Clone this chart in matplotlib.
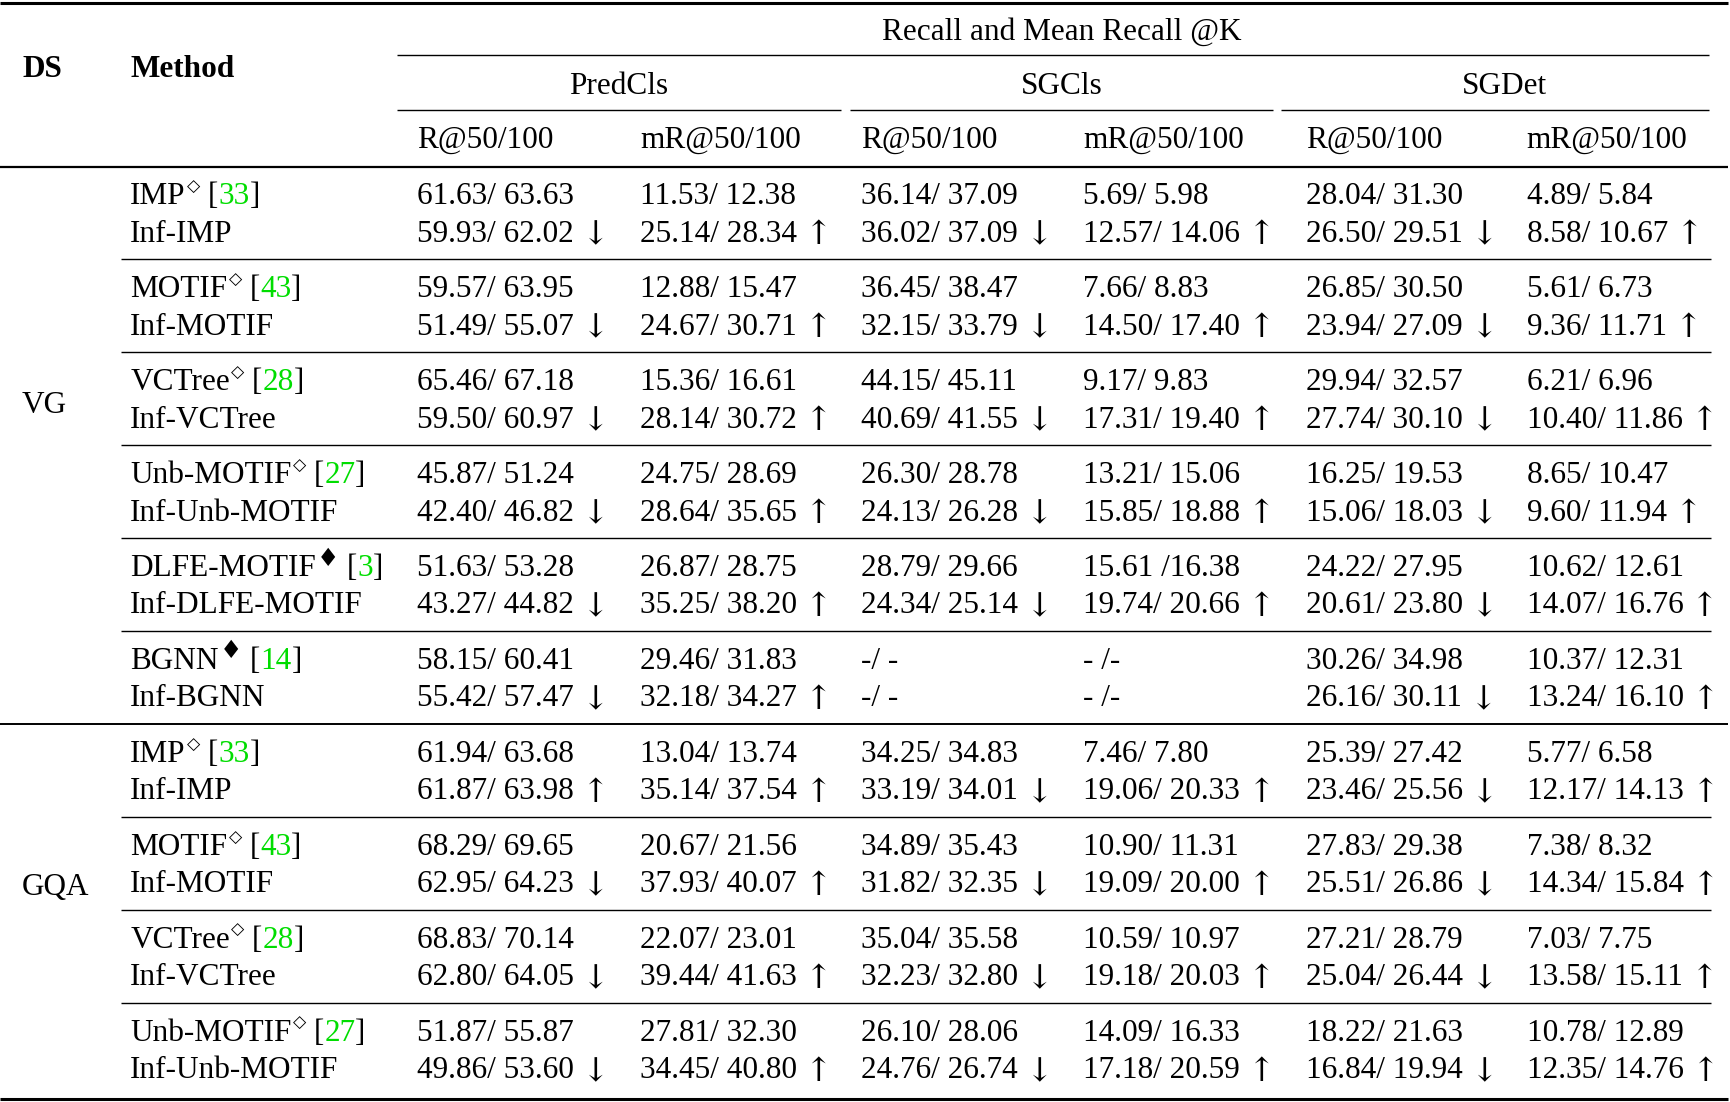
import matplotlib
matplotlib.use("Agg")
import matplotlib.pyplot as plt

plt.rcParams['font.family'] = ['Liberation Serif', 'DejaVu Serif']

# table data
groups = ["VG"] * 12 + ["GQA"] * 8
base_names = ["IMP", "MOTIF", "VCTree", "Unb-MOTIF", "DLFE-MOTIF", "BGNN",
              "IMP", "MOTIF", "VCTree", "Unb-MOTIF"]
marks = ["\u25C7", "\u25C7", "\u25C7", "\u25C7", "\u2666", "\u2666",
         "\u25C7", "\u25C7", "\u25C7", "\u25C7"]
refs = ["33", "43", "28", "27", "3", "14", "33", "43", "28", "27"]
inf_names = ["Inf-IMP", "Inf-MOTIF", "Inf-VCTree", "Inf-Unb-MOTIF", "Inf-DLFE-MOTIF",
             "Inf-BGNN", "Inf-IMP", "Inf-MOTIF", "Inf-VCTree", "Inf-Unb-MOTIF"]

base_vals = [
    ["61.63/ 63.63", "11.53/ 12.38", "36.14/ 37.09", "5.69/ 5.98", "28.04/ 31.30", "4.89/ 5.84"],
    ["59.57/ 63.95", "12.88/ 15.47", "36.45/ 38.47", "7.66/ 8.83", "26.85/ 30.50", "5.61/ 6.73"],
    ["65.46/ 67.18", "15.36/ 16.61", "44.15/ 45.11", "9.17/ 9.83", "29.94/ 32.57", "6.21/ 6.96"],
    ["45.87/ 51.24", "24.75/ 28.69", "26.30/ 28.78", "13.21/ 15.06", "16.25/ 19.53", "8.65/ 10.47"],
    ["51.63/ 53.28", "26.87/ 28.75", "28.79/ 29.66", "15.61 /16.38", "24.22/ 27.95", "10.62/ 12.61"],
    ["58.15/ 60.41", "29.46/ 31.83", "-/ -", "- /-", "30.26/ 34.98", "10.37/ 12.31"],
    ["61.94/ 63.68", "13.04/ 13.74", "34.25/ 34.83", "7.46/ 7.80", "25.39/ 27.42", "5.77/ 6.58"],
    ["68.29/ 69.65", "20.67/ 21.56", "34.89/ 35.43", "10.90/ 11.31", "27.83/ 29.38", "7.38/ 8.32"],
    ["68.83/ 70.14", "22.07/ 23.01", "35.04/ 35.58", "10.59/ 10.97", "27.21/ 28.79", "7.03/ 7.75"],
    ["51.87/ 55.87", "27.81/ 32.30", "26.10/ 28.06", "14.09/ 16.33", "18.22/ 21.63", "10.78/ 12.89"],
]
inf_vals = [
    ["59.93/ 62.02 \u2193", "25.14/ 28.34 \u2191", "36.02/ 37.09 \u2193", "12.57/ 14.06 \u2191", "26.50/ 29.51 \u2193", "8.58/ 10.67 \u2191"],
    ["51.49/ 55.07 \u2193", "24.67/ 30.71 \u2191", "32.15/ 33.79 \u2193", "14.50/ 17.40 \u2191", "23.94/ 27.09 \u2193", "9.36/ 11.71 \u2191"],
    ["59.50/ 60.97 \u2193", "28.14/ 30.72 \u2191", "40.69/ 41.55 \u2193", "17.31/ 19.40 \u2191", "27.74/ 30.10 \u2193", "10.40/ 11.86 \u2191"],
    ["42.40/ 46.82 \u2193", "28.64/ 35.65 \u2191", "24.13/ 26.28 \u2193", "15.85/ 18.88 \u2191", "15.06/ 18.03 \u2193", "9.60/ 11.94 \u2191"],
    ["43.27/ 44.82 \u2193", "35.25/ 38.20 \u2191", "24.34/ 25.14 \u2193", "19.74/ 20.66 \u2191", "20.61/ 23.80 \u2193", "14.07/ 16.76 \u2191"],
    ["55.42/ 57.47 \u2193", "32.18/ 34.27 \u2191", "-/ -", "- /-", "26.16/ 30.11 \u2193", "13.24/ 16.10 \u2191"],
    ["61.87/ 63.98 \u2191", "35.14/ 37.54 \u2191", "33.19/ 34.01 \u2193", "19.06/ 20.33 \u2191", "23.46/ 25.56 \u2193", "12.17/ 14.13 \u2191"],
    ["62.95/ 64.23 \u2193", "37.93/ 40.07 \u2191", "31.82/ 32.35 \u2193", "19.09/ 20.00 \u2191", "25.51/ 26.86 \u2193", "14.34/ 15.84 \u2191"],
    ["62.80/ 64.05 \u2193", "39.44/ 41.63 \u2191", "32.23/ 32.80 \u2193", "19.18/ 20.03 \u2191", "25.04/ 26.44 \u2193", "13.58/ 15.11 \u2191"],
    ["49.86/ 53.60 \u2193", "34.45/ 40.80 \u2191", "24.76/ 26.74 \u2193", "17.18/ 20.59 \u2191", "16.84/ 19.94 \u2193", "12.35/ 14.76 \u2191"],
]
tasks = ["PredCls", "SGCls", "SGDet"]
col_heads = ["R@50/100", "mR@50/100"] * 3

W, H = 1568, 998
fig = plt.figure(figsize=(17.31, 11.02), dpi=100)
ax = fig.add_axes([0, 0, 1, 1])
ax.set_xlim(0, W)
ax.set_ylim(H, 0)
ax.axis('off')

fs = 22.5
green = '#00dd00'
col_x = [378, 580, 780, 981, 1183, 1383]
dy = 2

def hline(y, x0=0, x1=1565, lw=1.0):
    ax.plot([x0, x1], [y, y], color='black', lw=lw, solid_capstyle='butt')

def txt(x, y, s, **kw):
    kw.setdefault('fontsize', fs)
    kw.setdefault('va', 'center')
    return ax.text(x, y + dy, s, **kw)

# header
hline(3, lw=2.2)
txt(20, 61, "DS", weight='bold')
txt(118, 61, "Method", weight='bold')
txt(962, 27, "Recall and Mean Recall @K", ha='center')
hline(50, 360, 1548)
for i, t in enumerate(tasks):
    txt(560 + i * 401.5, 76, t, ha='center')
for x0, x1 in [(360, 762), (770, 1153), (1160, 1548)]:
    hline(100, x0, x1)
for x, h in zip(col_x, col_heads):
    txt(x, 125, h)
hline(151, lw=1.6)

fig.canvas.draw()
renderer = fig.canvas.get_renderer()
inv = ax.transData.inverted()

def right_edge(t):
    bb = t.get_window_extent(renderer)
    return inv.transform((bb.x1, bb.y0))[0]

y0 = 176
step = 84.2
for i in range(len(base_names)):
    ya = y0 + i * step
    yb = ya + 34
    t = txt(118, ya, base_names[i])
    x = right_edge(t)
    if marks[i] == "\u2666":
        t = txt(x + 1, ya - 9, marks[i], fontsize=fs * 0.8, family=['DejaVu Sans'])
    else:
        t = txt(x + 1, ya - 9, marks[i], fontsize=fs * 0.55, family=['DejaVu Sans'])
    x = right_edge(t)
    t = txt(x, ya, " [")
    x = right_edge(t)
    t = txt(x, ya, refs[i], color=green)
    x = right_edge(t)
    txt(x, ya, "]")
    txt(118, yb, inf_names[i])
    for cx, a, b in zip(col_x, base_vals[i], inf_vals[i]):
        txt(cx, ya, a)
        if b[-1] in "\u2191\u2193":
            t = txt(cx, yb, b[:-1])
            x = right_edge(t)
            txt(x, yb + 1, b[-1], fontsize=fs * 1.05, family=['DejaVu Serif'])
        else:
            txt(cx, yb, b)
    sep = yb + 25
    if i == 5:
        hline(sep, lw=1.4)
    elif i < len(base_names) - 1:
        hline(sep, 110, 1550)

txt(20, 365, "VG")
txt(20, 802, "GQA")
hline(995, lw=2.2)

fig.savefig("out.png", dpi=100)
